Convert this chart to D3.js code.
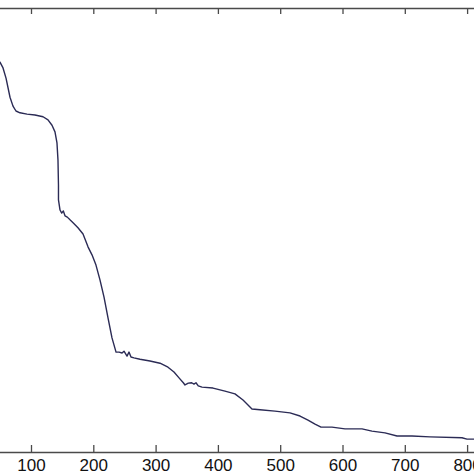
<!DOCTYPE html>
<html lang="en">
  <head>
    <meta charset="UTF-8" />
    <title>Curve</title>
    <script src="https://d3js.org/d3.v7.min.js"></script>
    <style>
      body {
        margin: 0;
        background: #fff;
      }
      .axis text {
        font-family: "Liberation Sans", Arial, sans-serif;
        font-size: 17px;
        fill: #111;
      }
      .axis path,
      .axis line {
        stroke: #4a4a4a;
        stroke-width: 1.3px;
      }
    </style>
  </head>
  <body>
    <svg id="chart" width="474" height="474"></svg>
    <script>
      // values
      let xs = [37.4, 50.2, 55.1, 59.9, 66.3, 71.1, 75.9, 82.3, 93.6, 106.4,
        119.3, 127.3, 133.7, 138.5, 141.7, 143.3, 144.1, 144.1, 146.6, 149.3,
        151.9, 154.6, 158.3, 162.6, 167.9, 175.4, 183.5, 191.5, 197.9, 204.3,
        210.8, 217.2, 223.6, 230.0, 236.5, 241.3, 246.1, 249.3, 254.1, 257.3,
        260.5, 265.3, 275.0, 291.0, 307.1, 319.9, 329.5, 337.6, 344.5, 347.2,
        352.5, 357.9, 361.6, 364.8, 368.5, 374.5, 392.1, 411.4, 427.4, 440.3,
        448.3, 454.7, 467.6, 491.6, 515.7, 531.8, 544.6, 555.9, 565.5, 583.1,
        604.0, 631.3, 647.3, 668.2, 687.5, 711.6, 740.5, 791.8, 799.8, 820.7];
      let ys = [89.4, 87.8, 86.5, 84.2, 79.9, 77.9, 76.8, 76.4, 76.1, 75.9,
        75.5, 74.8, 73.6, 72.1, 69.6, 65.8, 60.1, 56.8, 54.5, 53.8,
        54.3, 53.2, 52.9, 52.3, 51.6, 50.5, 49.1, 46.2, 44.4, 42.1,
        38.7, 34.9, 30.2, 25.7, 22.5, 22.5, 22.3, 22.7, 21.6, 22.5,
        21.4, 21.2, 20.9, 20.5, 20.0, 19.1, 18.0, 16.7, 15.6, 15.1,
        15.5, 15.6, 15.3, 15.6, 14.9, 14.6, 14.4, 13.7, 13.1, 11.7,
        10.6, 9.7, 9.5, 9.2, 8.8, 8.1, 7.2, 6.3, 5.6, 5.6,
        5.2, 5.2, 4.7, 4.3, 3.6, 3.6, 3.4, 3.2, 2.9, 2.9];
      let xTicks = [100, 200, 300, 400, 500, 600, 700, 800];

      let svg = d3.select("#chart");
      let plotTop = 8;
      let plotBottom = 452;

      let x = d3.scaleLinear().domain([0, 900]).range([-31.3, 529.4]);
      let y = d3.scaleLinear().domain([0, 100]).range([plotBottom, plotTop]);

      let data = xs.map(function (v, i) {
        return [v, ys[i]];
      });

      let line = d3
        .line()
        .x(function (d) {
          return x(d[0]);
        })
        .y(function (d) {
          return y(d[1]);
        });

      svg
        .append("path")
        .datum(data)
        .attr("fill", "none")
        .attr("stroke", "#2b2b55")
        .attr("stroke-width", 1.4)
        .attr("stroke-linejoin", "round")
        .attr("d", line);

      // top axis, ticks pointing down, no labels
      svg
        .append("g")
        .attr("class", "axis")
        .attr("transform", "translate(0," + plotTop + ")")
        .call(
          d3.axisTop(x).tickValues(xTicks).tickSize(-6).tickSizeOuter(0).tickFormat("")
        );

      // bottom axis, ticks pointing up
      svg
        .append("g")
        .attr("class", "axis")
        .attr("transform", "translate(0," + plotBottom + ")")
        .call(
          d3.axisBottom(x).tickValues(xTicks).tickSize(-7).tickSizeOuter(0).tickPadding(7)
        );

      svg.selectAll(".axis text").attr("font-family", null);
    </script>
  </body>
</html>
